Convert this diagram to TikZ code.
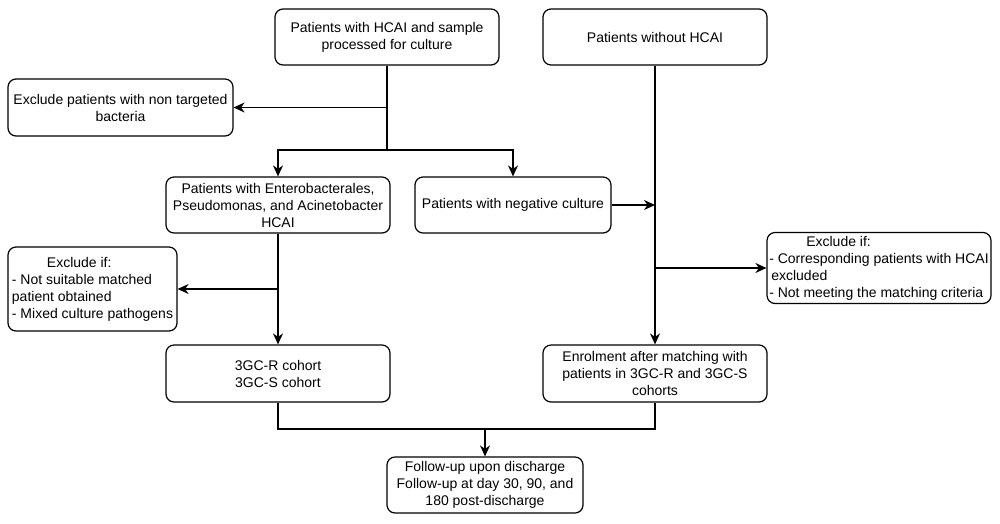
\documentclass[tikz,border=0pt]{standalone}
\usepackage{fontspec}
\setmainfont{Liberation Sans}
\usetikzlibrary{arrows.meta}
\begin{document}
\begin{tikzpicture}[x=1pt,y=-1pt,
 box/.style={draw, rounded corners=8pt, line width=1.2pt, align=center,
   font=\fontsize{14}{17}\selectfont, inner sep=0pt},
 conn/.style={line width=1.2pt},
 arr/.style={conn, -{Stealth[length=11pt,width=10pt,inset=3.5pt]}}]
\fill[white] (0,0) rectangle (1000,523);
\useasboundingbox (0,0) rectangle (1000,523);
\node[box, minimum width=224pt, minimum height=56pt] (A) at (387,37)
  {Patients with HCAI and sample\\processed for culture};
\node[box, minimum width=224pt, minimum height=56pt] (B) at (655,37)
  {Patients without HCAI};
\node[box, minimum width=225pt, minimum height=57pt] (C) at (120.5,107.5)
  {Exclude patients with non targeted\\bacteria};
\node[box, minimum width=224pt, minimum height=56pt] (D) at (278,205)
  {Patients with Enterobacterales,\\Pseudomonas, and Acinetobacter\\HCAI};
\node[box, minimum width=196pt, minimum height=56pt] (E) at (513,205)
  {Patients with negative culture};
\node[box, align=left, minimum width=169pt, minimum height=84pt] (F) at (92.5,289)
  {\hspace*{35pt}Exclude if:\\- Not suitable matched\\patient obtained\\- Mixed culture pathogens};
\node[box, minimum width=224pt, minimum height=57pt] (G) at (278,373.5)
  {3GC-R cohort\\3GC-S cohort};
\node[box, align=left, minimum width=224pt, minimum height=71pt] (H) at (879,268)
  {\hspace*{37pt}Exclude if:\\- Corresponding patients with HCAI\\\hspace*{2pt}excluded\\- Not meeting the matching criteria};
\node[box, minimum width=224pt, minimum height=57pt] (I) at (655,373.5)
  {Enrolment after matching with\\patients in 3GC-R and 3GC-S\\cohorts};
\node[box, minimum width=196pt, minimum height=56pt] (J) at (485,485)
  {Follow-up upon discharge\\Follow-up at day 30, 90, and\\180 post-discharge};
\coordinate (j1) at (387,150);
\coordinate (j2) at (485,429);
\draw[conn] (A.south) -- (j1);
\draw[arr] (A.south |- C.east) -- (C.east);
\draw[arr] (j1) -| (D.north);
\draw[arr] (j1) -| (E.north);
\draw[arr] (B.south) -- (I.north);
\draw[arr] (E.east) -- (B.south |- E.east);
\draw[arr] (B.south |- H.west) -- (H.west);
\draw[arr] (D.south) -- (G.north);
\draw[arr] (D.south |- F.east) -- (F.east);
\draw[conn] (G.south) |- (j2) -| (I.south);
\draw[arr] (j2) -- (J.north);
\end{tikzpicture}
\end{document}
